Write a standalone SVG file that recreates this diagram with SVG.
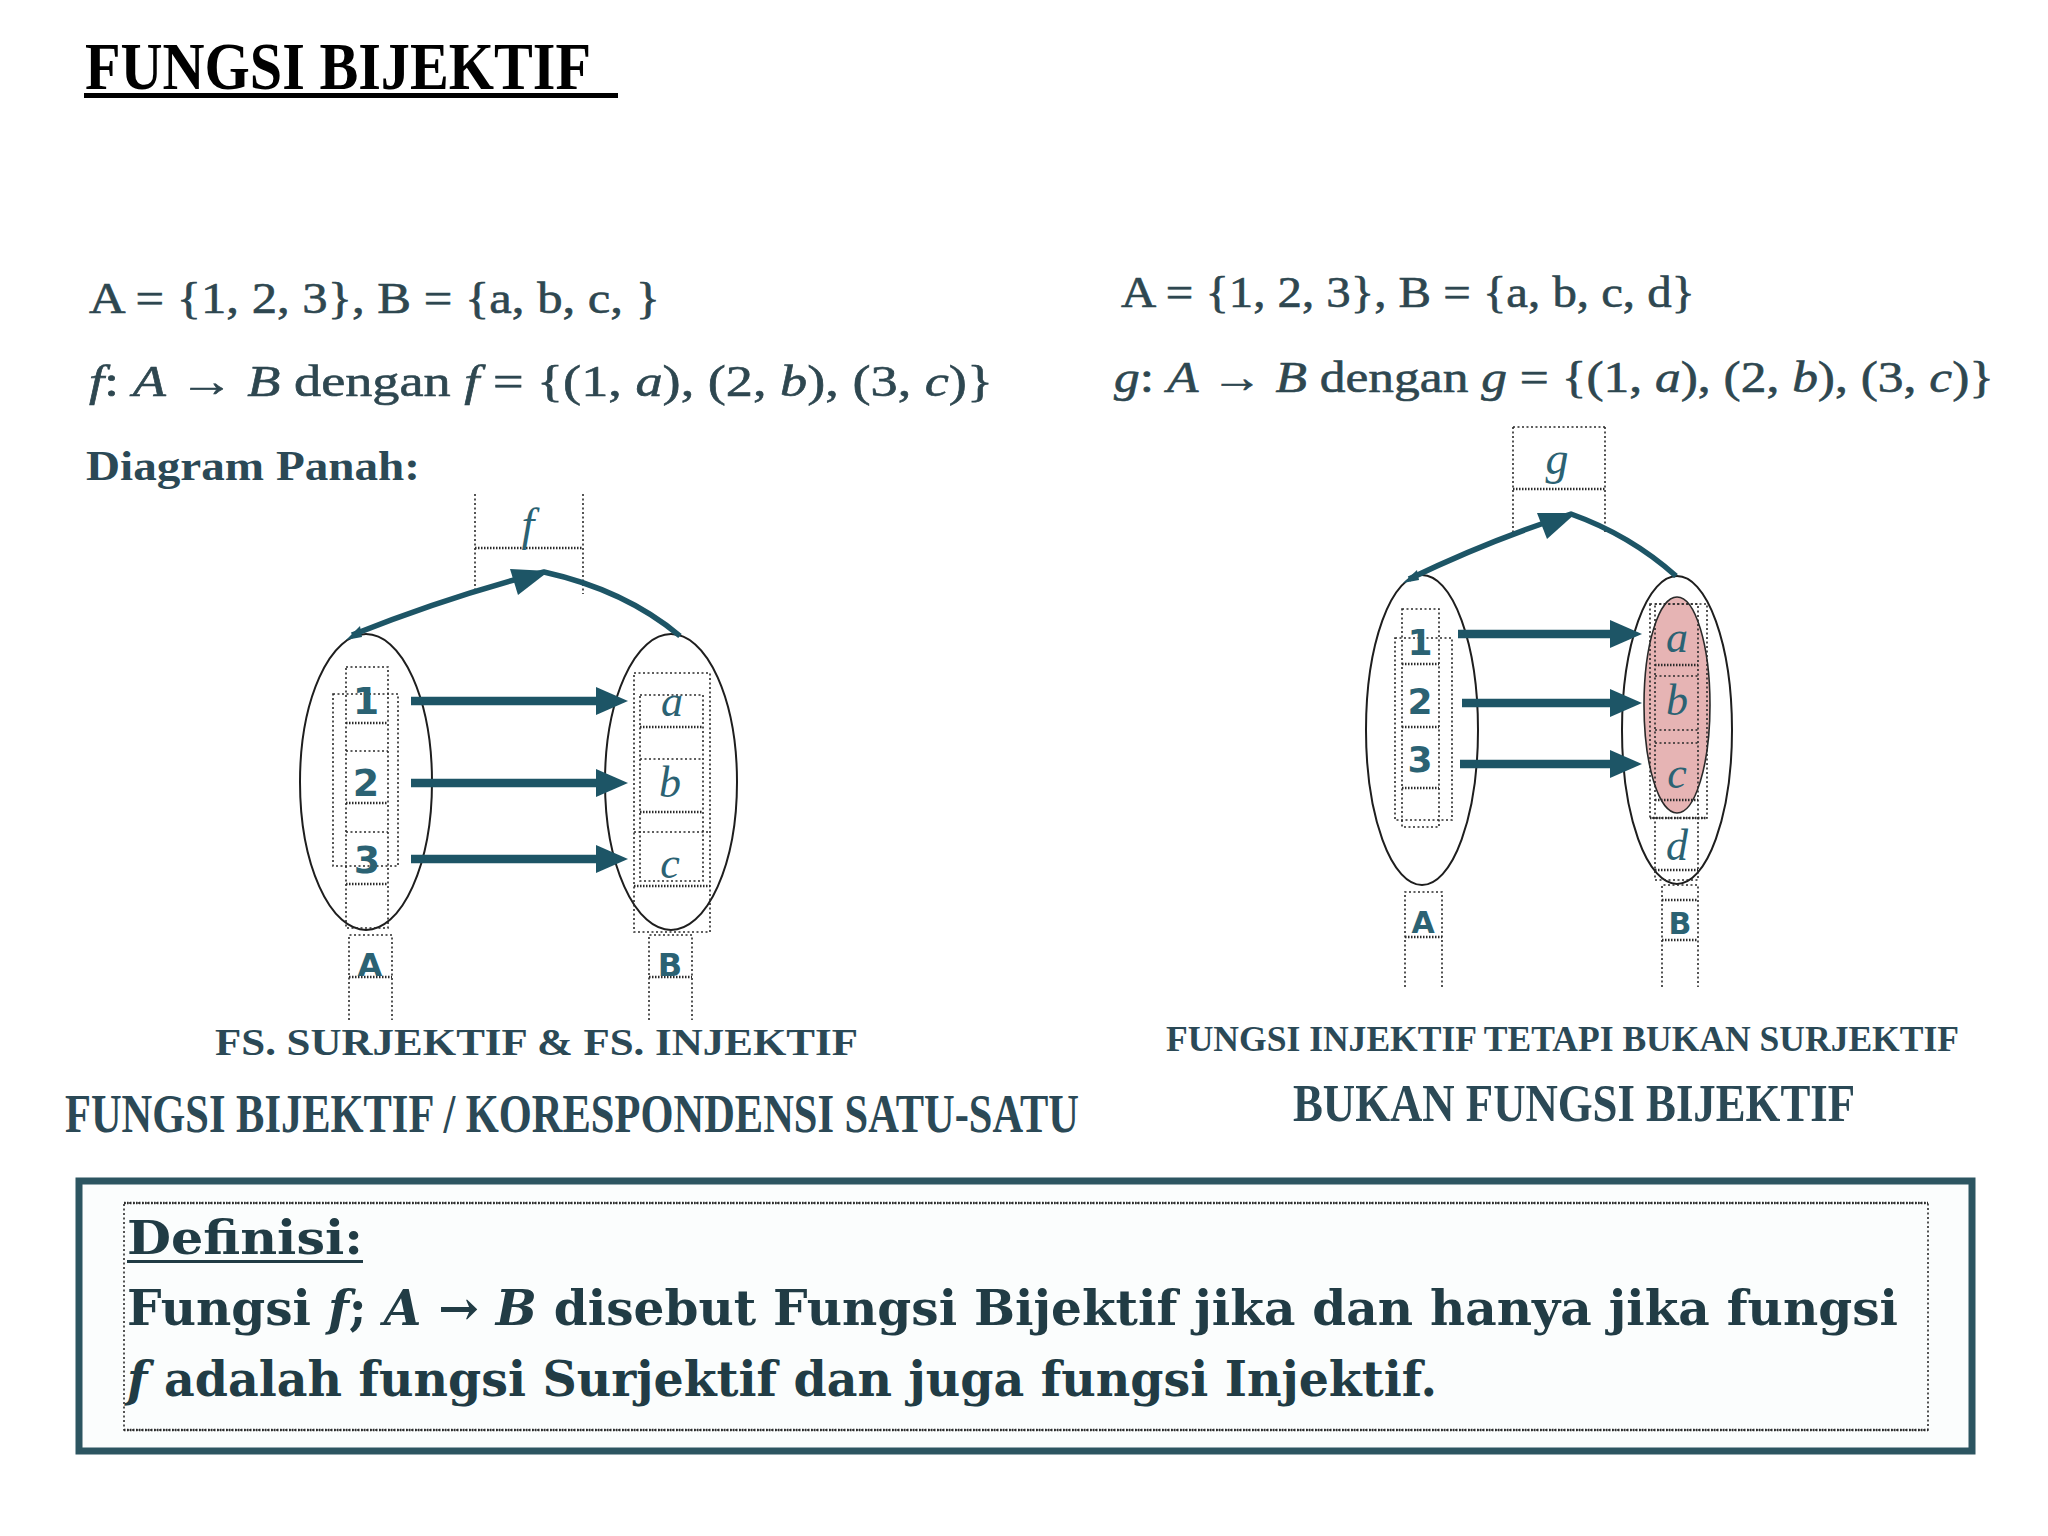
<svg xmlns="http://www.w3.org/2000/svg" width="2048" height="1536" viewBox="0 0 2048 1536">
<defs>
<style>
.dot{fill:none;stroke:#2a2a2a;stroke-width:1.6;stroke-dasharray:2 2.5}
.wav{fill:none;stroke:#2a2a2a;stroke-width:2.6;stroke-dasharray:1.5 1.5}
.ell{fill:none;stroke:#1e1e1e;stroke-width:2}
.arr{fill:none;stroke:#1d5566;stroke-width:8.5}
.cur{fill:none;stroke:#1d5566;stroke-width:5.5;stroke-linejoin:round}
.head{fill:#1d5566}
.math{font-family:"Liberation Serif","DejaVu Serif",serif;fill:#2e4750;stroke:#2e4750;stroke-width:0.6}
.it{font-style:italic}
.num{font-family:"DejaVu Sans","Liberation Sans",sans-serif;font-weight:bold;fill:#2b6273;text-anchor:middle}
.let{font-family:"Liberation Serif","DejaVu Serif",serif;font-style:italic;fill:#2b6273;text-anchor:middle}
.hd{font-family:"Liberation Serif","DejaVu Serif",serif;font-weight:bold;fill:#2b4956}
.def{font-family:"DejaVu Serif","Liberation Serif",serif;font-weight:bold;fill:#213c45}
</style>
<marker id="ah" markerUnits="userSpaceOnUse" markerWidth="34" markerHeight="30" refX="2" refY="14" orient="auto">
<path d="M0,0 L32,14 L0,28 z" fill="#1d5566"/>
</marker>
</defs>
<rect width="2048" height="1536" fill="#ffffff"/>

<g id="title">
<text x="85" y="89" font-family="Liberation Serif, serif" font-weight="bold" font-size="68" fill="#000" textLength="506" lengthAdjust="spacingAndGlyphs">FUNGSI BIJEKTIF</text>
<rect x="84" y="93" width="534" height="5" fill="#000"/>
</g>

<g id="left-text">
<text class="math" x="89" y="313" font-size="44" textLength="571" lengthAdjust="spacingAndGlyphs">A = {1, 2, 3}, B = {a, b, c, }</text>
<text class="math" x="89" y="396" font-size="44" textLength="904" lengthAdjust="spacingAndGlyphs"><tspan class="it">f</tspan>: <tspan class="it">A</tspan> → <tspan class="it">B</tspan> dengan <tspan class="it">f</tspan> = {(1, <tspan class="it">a</tspan>), (2, <tspan class="it">b</tspan>), (3, <tspan class="it">c</tspan>)}</text>
<text class="hd" x="86" y="480" font-size="42" textLength="334" lengthAdjust="spacingAndGlyphs">Diagram Panah:</text>
</g>

<g id="right-text">
<text class="math" x="1121" y="307" font-size="44" textLength="574" lengthAdjust="spacingAndGlyphs">A = {1, 2, 3}, B = {a, b, c, d}</text>
<text class="math" x="1114" y="392" font-size="44" textLength="880" lengthAdjust="spacingAndGlyphs"><tspan class="it">g</tspan>: <tspan class="it">A</tspan> → <tspan class="it">B</tspan> dengan <tspan class="it">g</tspan> = {(1, <tspan class="it">a</tspan>), (2, <tspan class="it">b</tspan>), (3, <tspan class="it">c</tspan>)}</text>
</g>

<g id="diagram-f">
<g id="f-label">
<line class="dot" x1="475" y1="494" x2="475" y2="594"/>
<line class="dot" x1="583" y1="494" x2="583" y2="594"/>
<line class="wav" x1="475" y1="548" x2="583" y2="548"/>
<text class="let" x="528" y="540" font-size="46">f</text>
</g>
<g id="set-A">
<ellipse class="ell" cx="366" cy="782" rx="66" ry="148"/>
<rect class="dot" x="346" y="667" width="42" height="261"/>
<rect class="dot" x="333" y="694" width="65" height="172"/>
<line class="wav" x1="346" y1="723" x2="388" y2="723"/>
<line class="dot" x1="346" y1="751" x2="388" y2="751"/>
<line class="wav" x1="346" y1="803" x2="388" y2="803"/>
<line class="dot" x1="346" y1="832" x2="388" y2="832"/>
<line class="wav" x1="346" y1="884" x2="388" y2="884"/>
<text class="num" x="366" y="714" font-size="38">1</text>
<text class="num" x="366" y="796" font-size="38">2</text>
<text class="num" x="367" y="873" font-size="38">3</text>
</g>
<g id="set-B">
<ellipse class="ell" cx="671" cy="782" rx="66" ry="148"/>
<rect class="dot" x="634" y="673" width="76" height="259"/>
<rect class="dot" x="640" y="695" width="63" height="186"/>
<line class="wav" x1="640" y1="727" x2="703" y2="727"/>
<line class="dot" x1="640" y1="759" x2="703" y2="759"/>
<line class="wav" x1="640" y1="812" x2="703" y2="812"/>
<line class="dot" x1="634" y1="832" x2="710" y2="832"/>
<line class="wav" x1="634" y1="886" x2="710" y2="886"/>
<text class="let" x="672" y="716" font-size="44">a</text>
<text class="let" x="670" y="797" font-size="44">b</text>
<text class="let" x="670" y="878" font-size="44">c</text>
</g>
<g id="label-A1">
<path class="dot" d="M349,1020 V935 H392 V1020"/>
<line class="wav" x1="349" y1="977" x2="392" y2="977"/>
<text class="num" x="370" y="976" font-size="32">A</text>
</g>
<g id="label-B1">
<path class="dot" d="M649,1020 V935 H692 V1020"/>
<line class="wav" x1="649" y1="977" x2="692" y2="977"/>
<text class="num" x="670" y="976" font-size="32">B</text>
</g>
</g>

<g id="diagram-g">
<g id="g-label">
<line class="dot" x1="1513" y1="427" x2="1513" y2="532"/>
<line class="dot" x1="1605" y1="427" x2="1605" y2="532"/>
<line class="dot" x1="1513" y1="427" x2="1605" y2="427"/>
<line class="wav" x1="1513" y1="489" x2="1605" y2="489"/>
<text class="let" x="1557" y="474" font-size="46">g</text>
</g>
<g id="set-A2">
<ellipse class="ell" cx="1422" cy="730" rx="56" ry="155"/>
<rect class="dot" x="1402" y="609" width="37" height="218"/>
<rect class="dot" x="1395" y="638" width="57" height="182"/>
<line class="wav" x1="1402" y1="664" x2="1439" y2="664"/>
<line class="wav" x1="1402" y1="727" x2="1439" y2="727"/>
<line class="wav" x1="1402" y1="788" x2="1439" y2="788"/>
<text class="num" x="1420" y="655" font-size="36">1</text>
<text class="num" x="1420" y="714" font-size="36">2</text>
<text class="num" x="1420" y="772" font-size="36">3</text>
</g>
<g id="set-B2">
<ellipse class="ell" cx="1677" cy="730" rx="55" ry="154"/>
<ellipse cx="1677" cy="705" rx="33" ry="108" fill="#e6b4b4" stroke="#2a2a2a" stroke-width="1.6"/>
<rect class="dot" x="1655" y="604" width="43" height="276"/>
<rect class="dot" x="1650" y="604" width="57" height="214"/>
<line class="wav" x1="1655" y1="665" x2="1698" y2="665"/>
<line class="dot" x1="1655" y1="676" x2="1698" y2="676"/>
<line class="dot" x1="1655" y1="730" x2="1698" y2="730"/>
<line class="dot" x1="1655" y1="743" x2="1698" y2="743"/>
<line class="wav" x1="1655" y1="800" x2="1698" y2="800"/>
<line class="wav" x1="1650" y1="818" x2="1707" y2="818"/>
<line class="wav" x1="1655" y1="870" x2="1698" y2="870"/>
<text class="let" x="1677" y="652" font-size="44">a</text>
<text class="let" x="1677" y="715" font-size="44">b</text>
<text class="let" x="1677" y="788" font-size="44">c</text>
<text class="let" x="1677" y="860" font-size="44">d</text>
</g>
<g id="label-A2">
<path class="dot" d="M1405,987 V892 H1442 V987"/>
<line class="wav" x1="1405" y1="937" x2="1442" y2="937"/>
<text class="num" x="1423" y="933" font-size="30">A</text>
</g>
<g id="label-B2">
<path class="dot" d="M1662,987 V885 H1698 V987"/>
<line class="wav" x1="1662" y1="900" x2="1698" y2="900"/>
<line class="wav" x1="1662" y1="940" x2="1698" y2="940"/>
<text class="num" x="1680" y="934" font-size="30">B</text>
</g>
</g>

<g id="connectors">
<path class="cur" d="M352,635 Q450,596 544,572 Q625,590 680,636"/>
<polygon class="head" points="549,571 518,595 510,569"/>
<polygon class="head" points="346,640 360,626 362,637"/>
<line class="arr" x1="411" y1="701" x2="598" y2="701" marker-end="url(#ah)"/>
<line class="arr" x1="411" y1="783" x2="598" y2="783" marker-end="url(#ah)"/>
<line class="arr" x1="411" y1="859" x2="598" y2="859" marker-end="url(#ah)"/>
<path class="cur" d="M1409,579 Q1490,540 1571,514 Q1630,535 1676,576"/>
<polygon class="head" points="1576,513 1547,539 1537,513"/>
<polygon class="head" points="1403,583 1417,570 1419,580"/>
<line class="arr" x1="1458" y1="634" x2="1612" y2="634" marker-end="url(#ah)"/>
<line class="arr" x1="1462" y1="703" x2="1612" y2="703" marker-end="url(#ah)"/>
<line class="arr" x1="1460" y1="764" x2="1612" y2="764" marker-end="url(#ah)"/>
</g>

<g id="captions">
<text class="hd" x="215" y="1055" font-size="37" textLength="643" lengthAdjust="spacingAndGlyphs">FS. SURJEKTIF  &amp; FS. INJEKTIF</text>
<text class="hd" x="65" y="1132" font-size="54" textLength="1014" lengthAdjust="spacingAndGlyphs">FUNGSI BIJEKTIF / KORESPONDENSI SATU-SATU</text>
<text class="hd" x="1166" y="1051" font-size="35" textLength="793" lengthAdjust="spacingAndGlyphs">FUNGSI INJEKTIF TETAPI BUKAN SURJEKTIF</text>
<text class="hd" x="1293" y="1121" font-size="53" textLength="562" lengthAdjust="spacingAndGlyphs">BUKAN FUNGSI BIJEKTIF</text>
</g>

<g id="definition">
<rect x="79" y="1181" width="1893" height="270" fill="#fbfdfd" stroke="#2c5561" stroke-width="7"/>
<rect class="dot" x="124" y="1203" width="1804" height="227"/>
<line class="wav" x1="124" y1="1203" x2="1928" y2="1203"/>
<line class="wav" x1="124" y1="1430" x2="1928" y2="1430"/>
<text class="def" x="127" y="1254" font-size="46" textLength="236" lengthAdjust="spacingAndGlyphs">Definisi:</text>
<rect x="127" y="1260" width="236" height="3" fill="#213c45"/>
<text class="def" x="127" y="1325" font-size="48" textLength="1771" lengthAdjust="spacingAndGlyphs">Fungsi <tspan font-style="italic">f</tspan>; <tspan font-style="italic">A</tspan> → <tspan font-style="italic">B</tspan> disebut Fungsi Bijektif jika dan hanya jika fungsi</text>
<text class="def" x="127" y="1396" font-size="48" textLength="1310" lengthAdjust="spacingAndGlyphs"><tspan font-style="italic">f</tspan> adalah fungsi Surjektif dan juga fungsi Injektif.</text>
</g>
</svg>
